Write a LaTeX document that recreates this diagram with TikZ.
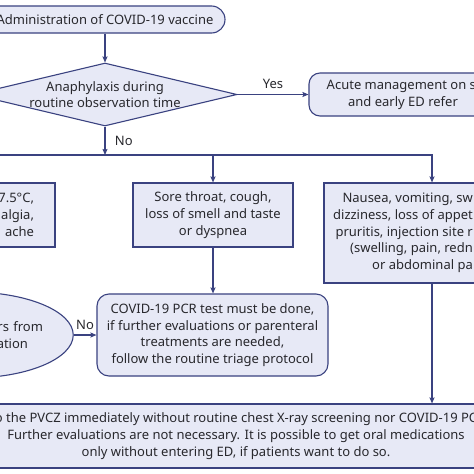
\documentclass[tikz,border=0pt]{standalone}
\usepackage{fontspec}
\setmainfont{Noto Sans}
\usetikzlibrary{shapes.geometric,arrows.meta}
\definecolor{boxfill}{RGB}{231,233,246}
\definecolor{boxline}{RGB}{58,66,128}
\definecolor{txt}{RGB}{40,40,45}

\begin{document}
\begin{tikzpicture}[x=1pt,y=-1pt,
  every node/.style={font=\fontsize{13}{16.7}\selectfont, text=txt},
  box/.style={draw=boxline, fill=boxfill, line width=1.1pt, align=center, inner sep=0pt},
  rbox/.style={box, rounded corners=11pt},
  flow/.style={draw=boxline, line width=1.1pt, -{Stealth[length=6pt,width=5pt,inset=1pt]}}]
\fill[white] (0,0) rectangle (474,474);
\useasboundingbox (0,0) rectangle (474,474);
\clip (0,0) rectangle (474,474);

% vaccination and decision
\node[box, rounded corners=13.5pt, minimum width=240pt, minimum height=27pt] (vac) at (105,19.5) {Administration of COVID-19 vaccine};
\node[box, shape=diamond, aspect=4.2, minimum width=264pt, minimum height=63pt, inner sep=-8pt] (ana) at (105,94.5) {Anaphylaxis during\\routine observation time};
\node[rbox, minimum width=188pt, minimum height=43pt] (acute) at (403,94.5) {Acute management on si\\and early ED refer};
\coordinate (split) at (105,155);

\draw[flow] (vac) -- (ana);
\draw[flow] (ana) -- node[above, yshift=2pt]{Yes} (acute);
\draw[flow] (ana.south) -- node[right, xshift=6pt]{No} (split);

% symptom groups
\node[box, minimum width=160pt, minimum height=64pt, text width=118pt, align=right] (fever) at (-25,215) {7.5°C,\\algia,\\ache};
\node[box, minimum width=160pt, minimum height=64pt] (sore) at (213,215) {Sore throat, cough,\\loss of smell and taste\\or dyspnea};
\node[box, minimum width=158pt, minimum height=100pt, align=right] (naus) at (403,233) {Nausea, vomiting, sw\\dizziness, loss of appet\\pruritis, injection site r\\(swelling, pain, redn\\or abdominal pa};

\draw[flow] (split) -| (fever.north);
\draw[flow] (split) -| (sore.north);
\draw[flow] (split) -| ([xshift=29pt]naus.north);

% PCR and return
\node[box, shape=ellipse, minimum width=170pt, minimum height=86pt, text width=146pt, align=right] (other) at (-30,335) {rs from\\ation\hspace*{15pt}};
\node[rbox, rounded corners=12pt, minimum width=231pt, minimum height=82pt] (pcr) at (212.5,335) {COVID-19 PCR test must be done,\\if further evaluations or parenteral\\treatments are needed,\\follow the routine triage protocol};
\node[box, minimum width=540pt, minimum height=64pt] (back) at (236,436) {o the PVCZ immediately without routine chest X-ray screening nor COVID-19 PC\\Further evaluations are not necessary. It is possible to get oral medications\\only without entering ED, if patients want to do so.};

\draw[flow] (other) -- node[above, yshift=1pt]{No} (pcr);
\draw[flow] (sore.south) -- (sore.south |- pcr.north);
\draw[flow] ([xshift=29pt]naus.south) -- ([xshift=29pt]naus.south |- back.north);
\end{tikzpicture}
\end{document}
